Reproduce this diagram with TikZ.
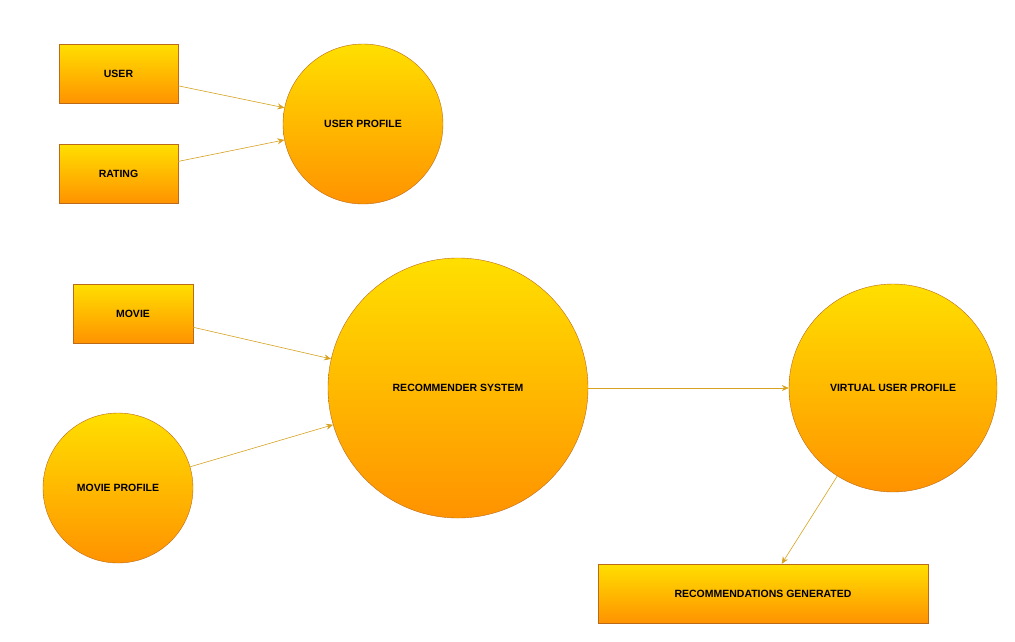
\documentclass[tikz,border=0pt]{standalone}
\usepackage{fontspec}
\setmainfont{Liberation Sans}
\usetikzlibrary{arrows.meta}
\begin{document}
\begin{tikzpicture}[x=1pt,y=-1pt,
  shp/.style={draw=orange!70!black!90,top color=yellow!75!orange,bottom color=orange!85!yellow,font=\fontsize{10.5}{12}\selectfont\bfseries,inner sep=0pt,align=center},
  bx/.style={shp,rectangle,minimum width=119,minimum height=59},
  cir/.style={shp,circle},
  arr/.style={draw={rgb,255:red,214;green,162;blue,31},-{Stealth[length=7,width=6]},line width=0.6}]
\useasboundingbox (0,0) rectangle (1015,641);
\node[bx] (user) at (118.5,73.5) {USER};
\node[bx] (rating) at (118.5,173.5) {RATING};
\node[cir,minimum size=160] (uprof) at (363,124) {USER PROFILE};
\node[bx,minimum width=120] (movie) at (133,313.5) {MOVIE};
\node[cir,minimum size=150] (mprof) at (118,488) {MOVIE PROFILE};
\node[cir,minimum size=260] (rec) at (458,388) {RECOMMENDER SYSTEM};
\node[cir,minimum size=208] (vup) at (893,388) {VIRTUAL USER PROFILE};
\node[bx,minimum width=330] (gen) at (763,593.5) {RECOMMENDATIONS GENERATED};
\draw[arr] (user) -- (uprof);
\draw[arr] (rating) -- (uprof);
\draw[arr] (movie) -- (rec);
\draw[arr] (mprof) -- (rec);
\draw[arr] (rec) -- (vup);
\draw[arr] (vup) -- (gen);
\end{tikzpicture}
\end{document}
